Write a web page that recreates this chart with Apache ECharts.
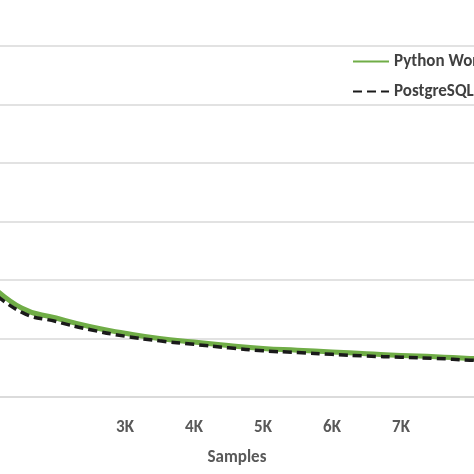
<!DOCTYPE html>
<html><head><meta charset="utf-8">
<script src="https://cdn.jsdelivr.net/npm/echarts@6/dist/echarts.min.js"></script>
<style>html,body{margin:0;padding:0;background:#fff}#c{width:474px;height:474px}</style>
</head><body><div id="c"></div>
<script>
var samples = [1000, 1500, 2000, 2500, 3000, 3500, 4000, 4500, 5000, 5500, 6000, 6500, 7000, 7500, 8000, 8500, 9000];
var pythonWorkers = [1.98, 1.52, 1.35, 1.2, 1.09, 1.0, 0.94, 0.88, 0.83, 0.8, 0.77, 0.74, 0.71, 0.69, 0.66, 0.64, 0.62];
var postgres =      [1.88, 1.45, 1.29, 1.15, 1.04, 0.96, 0.9, 0.84, 0.79, 0.76, 0.73, 0.7, 0.68, 0.66, 0.63, 0.61, 0.59];
var xTicks = [2000, 3000, 4000, 5000, 6000, 7000, 8000];
var chart = echarts.init(document.getElementById('c'));
var font = "Carlito, 'Open Sans', 'Noto Sans', sans-serif";
chart.setOption({
  animation: false,
  grid: {left: 0, right: 0, top: 46, bottom: 77, containLabel: false},
  legend: {
    orient: 'vertical', left: 347, top: 48, itemGap: 13, itemWidth: 36, itemHeight: 14,
    itemStyle: {opacity: 0},
    textStyle: {fontFamily: font, fontWeight: 'bold', fontSize: 17, color: '#404040'},
    data: ['Python Workers', 'PostgreSQL']
  },
  xAxis: {
    type: 'value', min: 1188, max: 8058,
    name: 'Samples', nameLocation: 'middle', nameGap: 52,
    nameTextStyle: {fontFamily: font, fontWeight: 'bold', fontSize: 17, color: '#595959'},
    axisLine: {show: true, lineStyle: {color: '#d9d9d9', width: 1.5}},
    axisTick: {show: false}, splitLine: {show: false},
    axisLabel: {margin: 22, fontFamily: font, fontWeight: 'bold', fontSize: 17, color: '#595959',
      customValues: xTicks, showMinLabel: false, showMaxLabel: false,
      formatter: function(v){ return (v/1000) + 'K'; }}
  },
  yAxis: {
    type: 'value', min: 0, max: 6, interval: 1,
    axisLine: {show: false}, axisTick: {show: false}, axisLabel: {show: false},
    splitLine: {lineStyle: {color: '#d9d9d9', width: 1.5}}
  },
  series: [
    {name: 'Python Workers', type: 'line', smooth: true, symbol: 'none',
     lineStyle: {color: '#70ad47', width: 5}, itemStyle: {color: '#70ad47'},
     data: samples.map(function(s, i){ return [s, pythonWorkers[i]]; })},
    {name: 'PostgreSQL', type: 'line', smooth: true, symbol: 'none',
     lineStyle: {color: '#1a1a1a', width: 3.5, type: [9, 5]}, itemStyle: {color: '#1a1a1a'},
     data: samples.map(function(s, i){ return [s, postgres[i]]; })}
  ]
});
</script></body></html>
